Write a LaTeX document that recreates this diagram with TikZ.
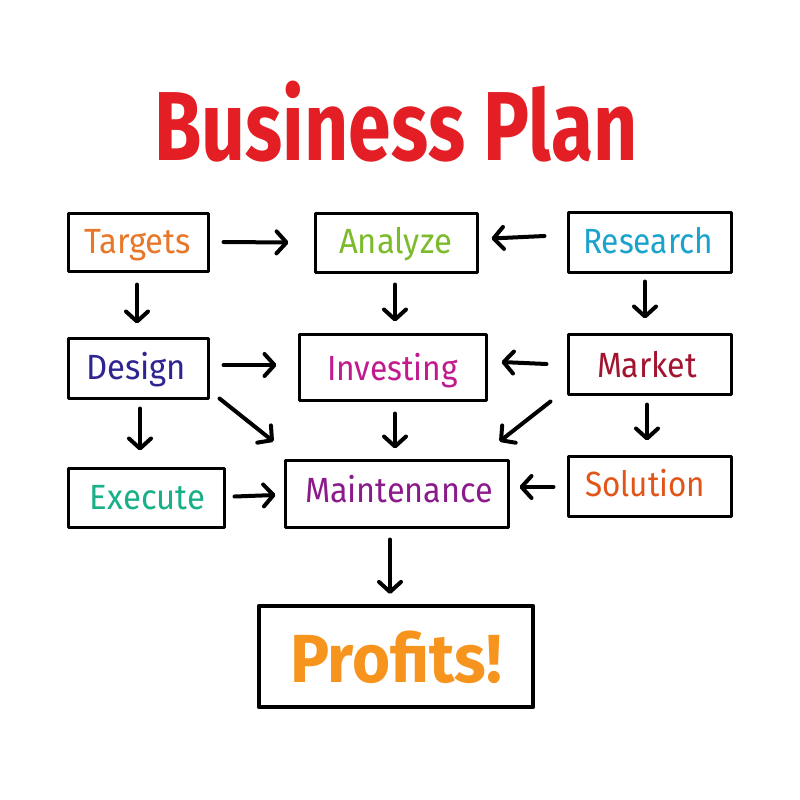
\documentclass[tikz,border=0pt]{standalone}
\usepackage{fontspec}
\usepackage{graphicx}
\setmainfont{Fira Sans}
\usetikzlibrary{arrows.meta,calc}
\definecolor{ctitle}{HTML}{E31E24}
\definecolor{ctargets}{HTML}{E8772A}
\definecolor{canalyze}{HTML}{7CBB2A}
\definecolor{cresearch}{HTML}{1AA3CC}
\definecolor{cdesign}{HTML}{2E2590}
\definecolor{cinvesting}{HTML}{C01A8D}
\definecolor{cmarket}{HTML}{A31430}
\definecolor{cexecute}{HTML}{19B088}
\definecolor{cmaint}{HTML}{8B1A8B}
\definecolor{csolution}{HTML}{E25519}
\definecolor{cprofits}{HTML}{F7941D}
\newcommand\fitlbl[2]{\resizebox{#1pt}{\height}{\fontsize{35}{40}\selectfont #2}}
\tikzset{
  box/.style={draw=black, line width=3pt, rectangle, inner sep=0pt, line join=round},
  lbl/.style={anchor=base, inner sep=0pt},
  arr/.style={line width=4pt, line cap=round, -{Straight Barb[length=10pt,width=22pt,line width=4pt,line cap=round,line join=round]}}
}
\begin{document}
\begin{tikzpicture}[x=1pt,y=-1pt]
\useasboundingbox[fill=white] (0,0) rectangle (800,800);
% title
\node[lbl, text=ctitle] (title) at (396,160) {\resizebox{483pt}{\height}{\fontsize{98}{100}\selectfont\bfseries Business Plan}};
% boxes
\node[box, minimum width=140pt, minimum height=58pt] (targets) at (138,242) {};
\node[box, minimum width=162pt, minimum height=59pt] (analyze) at (396,242.5) {};
\node[box, minimum width=163pt, minimum height=60pt] (research) at (649.5,242) {};
\node[box, minimum width=140pt, minimum height=60pt] (design) at (138,368) {};
\node[box, minimum width=187pt, minimum height=66pt] (investing) at (392.5,367) {};
\node[box, minimum width=163pt, minimum height=60pt] (market) at (649.5,364) {};
\node[box, minimum width=156pt, minimum height=59pt] (execute) at (146,497.5) {};
\node[box, minimum width=223pt, minimum height=67pt] (maint) at (396.5,493.5) {};
\node[box, minimum width=163pt, minimum height=60pt] (solution) at (649.5,486) {};
\node[box, line width=4.2pt, minimum width=274pt, minimum height=101pt] (profits) at (396,656.5) {};
% labels
\node[lbl, text=ctargets] (targetsT) at (137.5,253) {\fitlbl{107}{Targets}};
\node[lbl, text=canalyze] (analyzeT) at (395.5,253) {\fitlbl{113}{Analyze}};
\node[lbl, text=cresearch] (researchT) at (648,253) {\fitlbl{130}{Research}};
\node[lbl, text=cdesign] (designT) at (136,379) {\fitlbl{100}{Design}};
\node[lbl, text=cinvesting] (investingT) at (392.5,380) {\fitlbl{131}{Investing}};
\node[lbl, text=cmarket] (marketT) at (647,377) {\fitlbl{100}{Market}};
\node[lbl, text=cexecute] (executeT) at (147.5,509) {\fitlbl{115}{Execute}};
\node[lbl, text=cmaint] (maintT) at (399,502) {\fitlbl{188}{Maintenance}};
\node[lbl, text=csolution] (solutionT) at (645,496) {\fitlbl{120}{Solution}};
\node[lbl, text=cprofits] (profitsT) at (396,682) {\resizebox{212pt}{\height}{\fontsize{68}{70}\selectfont\bfseries Profits!}};
% arrows
\draw[arr] ($(targets.east)+(14,0)$) -- ($(analyze.west)+(-25,0)$);
\draw[arr] ($(research.west)+(-22,-6)$) -- ($(analyze.east)+(13,-4)$);
\draw[arr] ($(targets.south)+(-1,12)$) -- ($(design.north)+(-1,-13)$);
\draw[arr] ($(analyze.south)+(-1,11)$) -- ($(investing.north)+(2.5,-11)$);
\draw[arr] ($(research.south)+(-4.5,8)$) -- ($(market.north)+(-4.5,-14)$);
\draw[arr] ($(design.east)+(14,-3)$) -- ($(investing.west)+(-21,-2)$);
\draw[arr] ($(market.west)+(-20,0)$) -- ($(investing.east)+(14,-5)$);
\draw[arr] ($(design.south)+(2,9)$) -- ($(execute.north)+(-6,-16)$);
\draw[arr] ($(design.south east)+(10,-1)$) -- ($(maint.north west)+(-10,-17)$);
\draw[arr] ($(investing.south)+(2.5,12)$) -- ($(maint.north)+(-1.5,-10)$);
\draw[arr] ($(market.south west)+(-16,6)$) -- ($(maint.north east)+(-10,-17)$);
\draw[arr] ($(market.south)+(-2.5,9)$) -- ($(solution.north)+(-2.5,-14)$);
\draw[arr] ($(execute.east)+(9,-1)$) -- ($(maint.west)+(-8,1.5)$);
\draw[arr] ($(solution.west)+(-13,1)$) -- ($(maint.east)+(10,-6.5)$);
\draw[arr] ($(maint.south)+(-6.5,11)$) -- ($(profits.north)+(-6,-10)$);
\end{tikzpicture}
\end{document}
